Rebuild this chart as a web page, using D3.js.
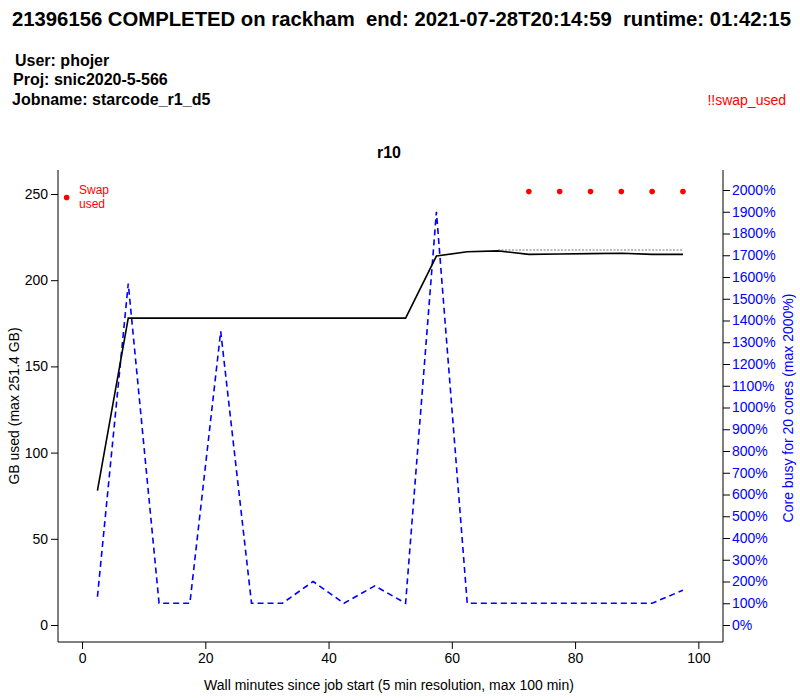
<!DOCTYPE html>
<html><head><meta charset="utf-8">
<script src="https://cdn.jsdelivr.net/npm/d3@7"></script>
<style>body{margin:0;background:#fff}text{font-family:'Liberation Sans',Arial,sans-serif}</style>
</head><body><div id="chart"></div>
<script>
const minutes = [2.5, 7.5, 12.5, 17.5, 22.5, 27.5, 32.5, 37.5, 42.5, 47.5, 52.5, 57.5, 62.5, 67.5, 72.5, 77.5, 82.5, 87.5, 92.5, 97.5]
const memGB = [78, 178, 178, 178, 178, 178, 178, 178, 178, 178, 178, 214, 216.5, 217, 215, 215.2, 215.4, 215.6, 215, 215]
const corePct = [130, 1570, 100, 100, 1350, 100, 100, 200, 100, 180, 100, 1900, 100, 100, 100, 100, 100, 100, 100, 160]
const swapMinutes = [72.5, 77.5, 82.5, 87.5, 92.5, 97.5]
const maxMemLine = 217.5
const leftTicks = [0, 50, 100, 150, 200, 250]
const rightTicks = d3.range(0, 2001, 100)
const xTicks = [0, 20, 40, 60, 80, 100]

const width = 800, height = 700
const svg = d3.select('#chart').append('svg').attr('width', width).attr('height', height)

const x = d3.scaleLinear().domain([-3.9, 104]).range([58, 723])
const yL = d3.scaleLinear().domain([0, 250]).range([625, 194])
const yR = d3.scaleLinear().domain([0, 2000]).range([625, 190])

// frame (left, bottom, right)
svg.append('path').attr('d', 'M58,170V642H723V170').attr('fill', 'none').attr('stroke', '#000')

const xAxis = svg.append('g').attr('transform', 'translate(0,642)')
  .call(d3.axisBottom(x).tickValues(xTicks).tickSize(7).tickPadding(4))
xAxis.select('.domain').remove()
const lAxis = svg.append('g').attr('transform', 'translate(58,0)')
  .call(d3.axisLeft(yL).tickValues(leftTicks).tickSize(7).tickPadding(3))
lAxis.select('.domain').remove()
const rAxis = svg.append('g').attr('transform', 'translate(723,0)')
  .call(d3.axisRight(yR).tickValues(rightTicks).tickSize(7).tickPadding(2).tickFormat(d => d + '%'))
rAxis.select('.domain').remove()
rAxis.selectAll('text').attr('fill', 'blue')
svg.selectAll('.tick text').attr('font-size', 14).attr('font-family', 'Liberation Sans, Arial, sans-serif')
svg.selectAll('.tick line').attr('stroke', '#000')

// core usage
svg.append('path').datum(corePct)
  .attr('d', d3.line().x((d, i) => x(minutes[i])).y(d => yR(d)))
  .attr('fill', 'none').attr('stroke', 'blue').attr('stroke-width', 1.6).attr('stroke-dasharray', '6,4')

// memory
svg.append('path').datum(memGB)
  .attr('d', d3.line().x((d, i) => x(minutes[i])).y(d => yL(d)))
  .attr('fill', 'none').attr('stroke', '#000').attr('stroke-width', 1.6)

svg.append('line').attr('x1', x(67.5)).attr('x2', x(97.5)).attr('y1', yL(maxMemLine)).attr('y2', yL(maxMemLine))
  .attr('stroke', '#555').attr('stroke-width', 0.8).attr('stroke-dasharray', '2,1.5')

// swap dots
svg.selectAll('circle.swap').data(swapMinutes).enter().append('circle')
  .attr('cx', d => x(d)).attr('cy', yL(251.4)).attr('r', 2.8).attr('fill', 'red')
svg.append('circle').attr('cx', x(-2.5)).attr('cy', yL(248)).attr('r', 2.8).attr('fill', 'red')
svg.append('text').attr('x', 79).attr('y', 194).attr('font-size', 12).attr('fill', 'red').text('Swap')
svg.append('text').attr('x', 79).attr('y', 208).attr('font-size', 12).attr('fill', 'red').text('used')

// titles
svg.append('text').attr('x', 12).attr('y', 26).attr('font-size', 20.3).attr('font-weight', 'bold')
  .style('white-space', 'pre')
  .text('21396156 COMPLETED on rackham  end: 2021-07-28T20:14:59  runtime: 01:42:15')
svg.append('text').attr('x', 15).attr('y', 66).attr('font-size', 16).attr('font-weight', 'bold').text('User: phojer')
svg.append('text').attr('x', 13).attr('y', 85).attr('font-size', 16).attr('font-weight', 'bold').text('Proj: snic2020-5-566')
svg.append('text').attr('x', 12).attr('y', 105).attr('font-size', 16).attr('font-weight', 'bold').text('Jobname: starcode_r1_d5')
svg.append('text').attr('x', 786).attr('y', 105).attr('font-size', 14).attr('fill', 'red').attr('text-anchor', 'end').text('!!swap_used')
svg.append('text').attr('x', 389).attr('y', 158).attr('font-size', 16).attr('font-weight', 'bold').attr('text-anchor', 'middle').text('r10')

svg.append('text').attr('x', 389).attr('y', 690).attr('font-size', 14).attr('text-anchor', 'middle')
  .text('Wall minutes since job start (5 min resolution, max 100 min)')
svg.append('text').attr('transform', 'translate(19,406) rotate(-90)').attr('font-size', 14).attr('text-anchor', 'middle')
  .text('GB used (max 251.4 GB)')
svg.append('text').attr('transform', 'translate(793,408) rotate(-90)').attr('font-size', 14).attr('text-anchor', 'middle')
  .attr('fill', 'blue').text('Core busy for 20 cores (max 2000%)')
</script></body></html>
